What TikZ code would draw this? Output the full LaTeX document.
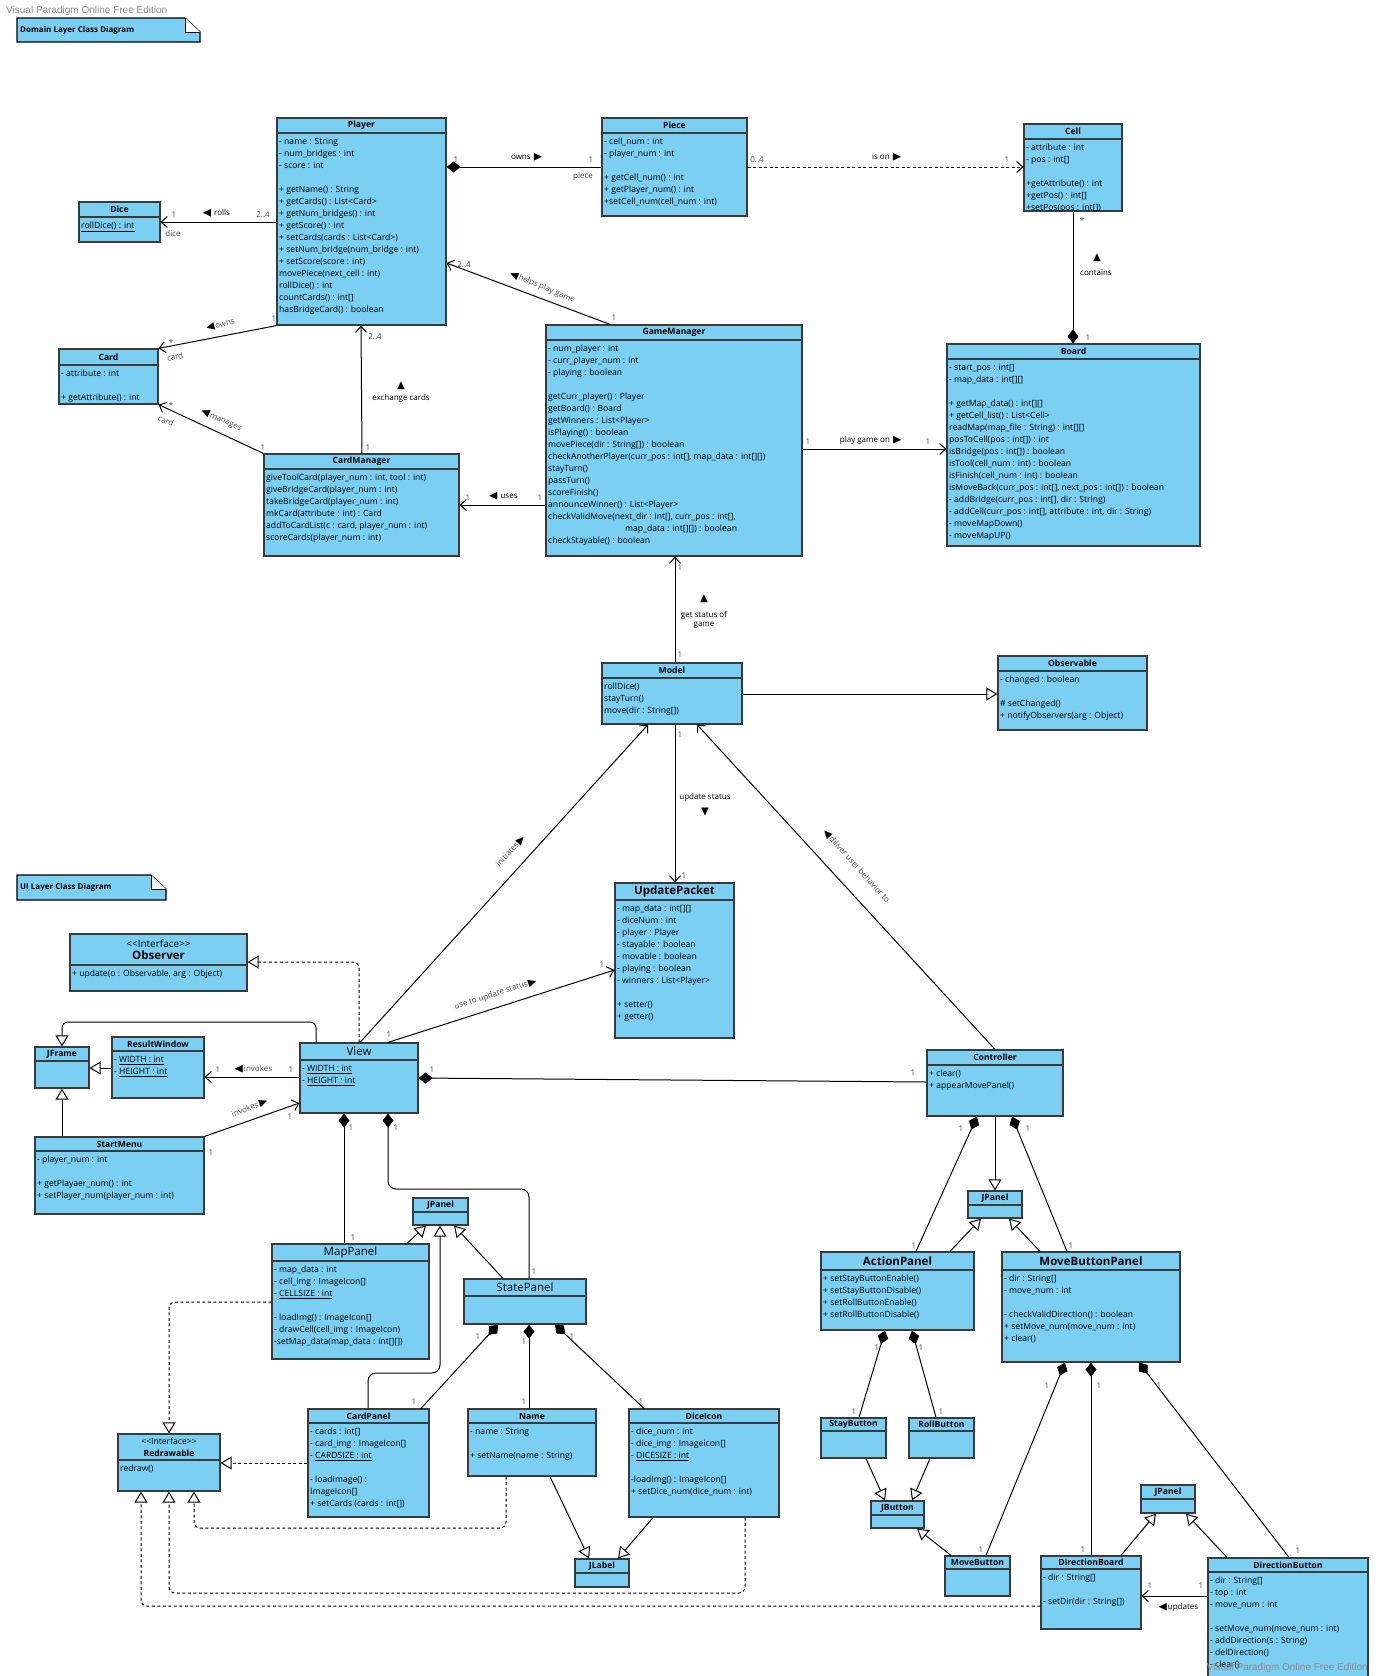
\documentclass[tikz,border=0pt]{standalone}
\usepackage{fontspec}
\usepackage{amssymb}
\setmainfont{Open Sans}
\newfontfamily\wmfont{Liberation Sans}
\usetikzlibrary{fit,arrows.meta,calc,shapes.geometric}
\definecolor{cfill}{HTML}{7ACFF3}
\definecolor{cedge}{HTML}{3A3A3A}
\newcommand{\bfnt}{\fontsize{8.6}{12}\selectfont}
\newcommand{\umlc}[8]{%
 \node[cbox, fit={(#2,#3)(#4,#5)}] (#1) {};
 \draw[cline] (#2,#6) -- (#4,#6);
 \node[ctitle] at ({(#2+#4)/2},{(#3+#6)/2}) {#7};
 \node[cbody] at (#2+2,#6+5) {#8};}
\newcommand{\bigt}[1]{{\fontsize{11.5}{13}\selectfont #1}}
\newcommand{\tR}{\raisebox{-1pt}{\fontsize{13}{13}\selectfont$\blacktriangleright$}}
\newcommand{\tL}{\raisebox{-1pt}{\fontsize{13}{13}\selectfont$\blacktriangleleft$}}
\newcommand{\tU}{{\fontsize{13}{13}\selectfont$\blacktriangle$}}
\newcommand{\tD}{{\fontsize{13}{13}\selectfont$\blacktriangledown$}}
\newcommand{\intf}{{<}{<}Interface{>}{>}}
\tikzset{
 cbox/.style={draw=cedge, fill=cfill, line width=1.2pt, inner sep=0pt},
 cline/.style={draw=cedge, line width=1.2pt},
 ctitle/.style={font=\bfnt\bfseries, align=center, inner sep=0pt},
 cbody/.style={font=\bfnt, align=left, anchor=north west, inner sep=0pt},
 lbl/.style={font=\fontsize{8}{9.6}\selectfont, text=black!70, inner sep=1pt},
 assoc/.style={line width=1pt, -{Straight Barb[length=6pt,width=11pt]}},
 gen/.style={line width=1pt, -{Triangle[open,length=11pt,width=13pt,fill=white]}},
 real/.style={gen, dash pattern=on 3pt off 2.5pt},
 comp/.style={line width=1pt, {Diamond[length=14pt,width=11pt]}-},
 notebox/.style={draw=black, fill=cfill, line width=1.2pt},
}
\begin{document}
\begin{tikzpicture}[x=1pt,y=-1pt]
\useasboundingbox[fill=white] (0,0) rectangle (1379,1676);
% watermark and notes
\node[anchor=west, text=black!45, font=\wmfont\fontsize{10}{12}\selectfont, inner sep=0] (wm1) at (6,11) {Visual Paradigm Online Free Edition};
\draw[notebox] (17,18) -- (185,18) -- (200,32) -- (200,42) -- (17,42) -- cycle;
\draw[line width=1pt, fill=white] (185,18) -- (185,32) -- (200,32);
\node[anchor=west, font=\fontsize{8}{10}\selectfont\bfseries, inner sep=0] (n1) at (20,30) {Domain Layer Class Diagram};
\draw[notebox] (17,875) -- (151,875) -- (166,889) -- (166,900) -- (17,900) -- cycle;
\draw[line width=1pt, fill=white] (151,875) -- (151,889) -- (166,889);
\node[anchor=west, font=\fontsize{8}{10}\selectfont\bfseries, inner sep=0] (n2) at (20,887) {UI Layer Class Diagram};

% ===== Domain classes
\umlc{player}{277}{118}{446}{325}{133}{Player}{- name : String\\- num\_bridges : int\\- score : int\\[12pt]+ getName() : String\\+ getCards() : List<Card>\\+ getNum\_bridges() : int\\+ getScore() : int\\+ setCards(cards : List<Card>)\\+ setNum\_bridge(num\_bridge : int)\\+ setScore(score : int)\\movePiece(next\_cell : int)\\rollDice() : int\\countCards() : int[]\\hasBridgeCard() : boolean}
\umlc{piece}{602}{118}{747}{216}{133}{Piece}{- cell\_num : int\\- player\_num : int\\[12pt]+ getCell\_num() : int\\+ getPlayer\_num() : int\\+setCell\_num(cell\_num : int)}
\umlc{cell}{1024}{124}{1122}{211}{139}{Cell}{- attribute : int\\- pos : int[]\\[12pt]+getAttribute() : int\\+getPos() : int[]\\+setPos(pos : int[])}
\umlc{dice}{79}{202}{160}{242}{217}{Dice}{\underline{rollDice() : int}}
\umlc{card}{59}{349}{158}{404}{365}{Card}{- attribute : int\\[12pt]+ getAttribute() : int}
\umlc{cardmanager}{264}{454}{459}{556}{469}{CardManager}{giveToolCard(player\_num : int, tool : int)\\giveBridgeCard(player\_num : int)\\takeBridgeCard(player\_num : int)\\mkCard(attribute : int) : Card\\addToCardList(c : card, player\_num : int)\\scoreCards(player\_num : int)}
\umlc{gamemanager}{546}{325}{802}{556}{340}{GameManager}{- num\_player : int\\- curr\_player\_num : int\\- playing : boolean\\[12pt]getCurr\_player() : Player\\getBoard() : Board\\getWinners : List<Player>\\isPlaying() : boolean\\movePiece(dir : String[]) : boolean\\checkAnotherPlayer(curr\_pos : int[], map\_data : int[][])\\stayTurn()\\passTurn()\\scoreFinish()\\announceWinner() : List<Player>\\checkValidMove(next\_dir : int[], curr\_pos : int[],\\\hspace*{77pt}map\_data : int[][]) : boolean\\checkStayable() : boolean}
\umlc{board}{947}{344}{1200}{546}{359}{Board}{- start\_pos : int[]\\- map\_data : int[][]\\[12pt]+ getMap\_data() : int[][]\\+ getCell\_list() : List<Cell>\\readMap(map\_file : String) : int[][]\\posToCell(pos : int[]) : int\\isBridge(pos : int[]) : boolean\\isTool(cell\_num : int) : boolean\\isFinish(cell\_num : int) : boolean\\isMoveBack(curr\_pos : int[], next\_pos : int[]) : boolean\\- addBridge(curr\_pos : int[], dir : String)\\- addCell(curr\_pos : int[], attribute : int, dir : String)\\- moveMapDown()\\- moveMapUP()}
\umlc{model}{602}{663}{742}{724}{678}{Model}{rollDice()\\stayTurn()\\move(dir : String[])}
\umlc{observable}{998}{656}{1147}{730}{671}{Observable}{- changed : boolean\\[12pt]\# setChanged()\\+ notifyObservers(arg : Object)}
\umlc{updatepacket}{615}{883}{734}{1038}{900}{\bigt{UpdatePacket}}{- map\_data : int[][]\\- diceNum : int\\- player : Player\\- stayable : boolean\\- movable : boolean\\- playing : boolean\\- winners : List<Player>\\[12pt]+ setter()\\+ getter()}

% ===== UI classes
\umlc{observer}{70}{934}{247}{991}{965}{\mdseries\fontsize{10}{14}\selectfont\intf\\\bigt{Observer}}{+ update(o : Observable, arg : Object)}
\umlc{view}{300}{1043}{418}{1113}{1060}{\mdseries\bigt{View}}{- \underline{WIDTH : int}\\- \underline{HEIGHT : int}}
\umlc{jframe}{35}{1047}{89}{1088}{1061}{JFrame}{}
\umlc{resultwindow}{112}{1037}{204}{1098}{1051}{ResultWindow}{- \underline{WIDTH : int}\\- \underline{HEIGHT : int}}
\umlc{startmenu}{35}{1137}{204}{1214}{1151}{StartMenu}{- player\_num : int\\[12pt]+ getPlayaer\_num() : int\\+ setPlayer\_num(player\_num : int)}
\umlc{controller}{927}{1050}{1063}{1116}{1065}{Controller}{+ clear()\\+ appearMovePanel()}
\umlc{jpanela}{413}{1198}{468}{1225}{1212}{JPanel}{}
\umlc{mappanel}{272}{1244}{429}{1359}{1261}{\mdseries\bigt{MapPanel}}{- map\_data : int\\- cell\_img : ImageIcon[]\\- \underline{CELLSIZE : int}\\[12pt]- loadImg() : ImageIcon[]\\- drawCell(cell\_img : ImageIcon)\\-setMap\_data(map\_data : int[][])}
\umlc{statepanel}{464}{1279}{586}{1324}{1296}{\mdseries\bigt{StatePanel}}{}
\umlc{cardpanel}{308}{1409}{429}{1517}{1423}{CardPanel}{- cards : int[]\\- card\_img : ImageIcon[]\\- \underline{CARDSIZE : int}\\[12pt]- loadImage() :\\ImageIcon[]\\+ setCards (cards : int[])}
\umlc{name}{468}{1409}{596}{1476}{1423}{Name}{- name : String\\[12pt]+ setName(name : String)}
\umlc{diceicon}{629}{1409}{779}{1517}{1423}{DiceIcon}{- dice\_num : int\\- dice\_img : Imageicon[]\\- \underline{DICESIZE : int}\\[12pt]-loadImg() : ImageIcon[]\\+ setDice\_num(dice\_num : int)}
\umlc{jlabel}{575}{1559}{629}{1587}{1573}{JLabel}{}
\umlc{redrawable}{118}{1434}{220}{1491}{1460}{\mdseries\fontsize{8.6}{12}\selectfont\intf\\\bfseries Redrawable}{redraw()}
\umlc{jpanelc}{968}{1191}{1022}{1218}{1205}{JPanel}{}
\umlc{actionpanel}{821}{1252}{974}{1330}{1270}{\bigt{ActionPanel}}{+ setStayButtonEnable()\\+ setStayButtonDisable()\\+ setRollButtonEnable()\\+ setRollButtonDisable()}
\umlc{movebuttonpanel}{1002}{1252}{1180}{1362}{1270}{\bigt{MoveButtonPanel}}{- dir : String[]\\- move\_num : int\\[12pt]- checkValidDirection() : boolean\\+ setMove\_num(move\_num : int)\\+ clear()}
\umlc{staybutton}{821}{1418}{886}{1458}{1431}{StayButton}{}
\umlc{rollbutton}{909}{1418}{974}{1458}{1431}{RollButton}{}
\umlc{jbutton}{871}{1501}{924}{1528}{1515}{JButton}{}
\umlc{movebutton}{945}{1556}{1010}{1596}{1569}{MoveButton}{}
\umlc{directionboard}{1041}{1556}{1141}{1629}{1569}{DirectionBoard}{- dir : String[]\\[12pt]- setDir(dir : String[])}
\umlc{jpanelr}{1141}{1485}{1195}{1513}{1499}{JPanel}{}
\umlc{directionbutton}{1208}{1558}{1368}{1700}{1572}{DirectionButton}{- dir : String[]\\- top : int\\- move\_num : int\\[12pt]- setMove\_num(move\_num : int)\\- addDirection(s : String)\\- delDirection()\\- clear()}
\node[anchor=east, text=black!45, font=\wmfont\fontsize{10}{12}\selectfont, inner sep=0] (wm2) at (1368,1668) {Visual Paradigm Online Free Edition};

% ===== Domain connectors
\draw[comp] (player.east |- 0,167) -- (piece.west |- 0,167);
\node[lbl] (l1) at (456,160) {1};
\node[lbl,text=black] (l2) at (527,157) {owns \tR};
\node[lbl] (l3) at (591,160) {1};
\node[lbl] (l4) at (583,177) {piece};
\draw[assoc, dash pattern=on 3pt off 2.5pt] (piece.east |- 0,167) -- (cell.west |- 0,167);
\node[lbl] (l5) at (757,160) {0..4};
\node[lbl,text=black] (l6) at (887,157) {is on \tR};
\node[lbl] (l7) at (1007,160) {1};
\draw[comp] (board.north -| 1073,0) -- (cell.south -| 1073,0);
\node[lbl] (l8) at (1082,220) {*};
\node[lbl,text=black] (l9) at (1097,258) {\tU};
\node[lbl,text=black] (l10) at (1096,273) {contains};
\node[lbl] (l11) at (1088,338) {1};
\draw[assoc] (player.west |- 0,222) -- (dice.east |- 0,222);
\node[lbl] (l12) at (174,215) {1};
\node[lbl,text=black] (l13) at (216,213) {\tL\ rolls};
\node[lbl] (l14) at (263,215) {2..4};
\node[lbl] (l15) at (173,233) {dice};
\draw[assoc] (player.south west) -- (card.north east);
\node[lbl] (l16) at (274,319) {1};
\node[lbl,rotate=13] (l17) at (220,325) {\textcolor{black}{\tL}owns};
\node[lbl] (l18) at (171,342) {*};
\node[lbl,rotate=13] (l19) at (175,357) {card};
\draw[assoc] (cardmanager.north west) -- (card.south east);
\node[lbl] (l20) at (263,448) {1};
\node[lbl,rotate=-24] (l21) at (221,420) {\textcolor{black}{\tL}manages};
\node[lbl] (l22) at (171,405) {*};
\node[lbl,rotate=-22] (l23) at (166,421) {card};
\draw[assoc] (cardmanager.north -| 362,0) -- (player.south -| 361,0);
\node[lbl] (l24) at (368,448) {1};
\node[lbl] (l25) at (375,337) {2..4};
\node[lbl,text=black] (l26) at (401,386) {\tU};
\node[lbl,text=black] (l27) at (401,398) {exchange cards};
\draw[assoc] (gamemanager.north -| 610,0) -- (player.east |- 0,263);
\node[lbl,rotate=-23] (l28) at (542,287) {\textcolor{black}{\tL}helps play game};
\node[lbl] (l29) at (614,318) {1};
\node[lbl] (l30) at (464,265) {2..4};
\draw[assoc] (gamemanager.west |- 0,505) -- (cardmanager.east |- 0,505);
\node[lbl] (l31) at (468,498) {1};
\node[lbl,text=black] (l32) at (503,496) {\tL\ uses};
\node[lbl] (l33) at (540,498) {1};
\draw[assoc] (gamemanager.east |- 0,449) -- (board.west |- 0,449);
\node[lbl] (l34) at (808,442) {1};
\node[lbl,text=black] (l35) at (871,440) {play game on \tR};
\node[lbl] (l36) at (928,442) {1};

% ===== Model area
\draw[assoc] (model.north -| 675,0) -- (gamemanager.south -| 675,0);
\node[lbl] (l37) at (680,568) {1};
\node[lbl,text=black] (l38) at (704,599) {\tU};
\node[lbl,text=black,align=center] (l39) at (704,620) {get status of\\game};
\node[lbl] (l40) at (680,655) {1};
\draw[gen] (model.east |- 0,694) -- (observable.west |- 0,694);
\draw[assoc] (model.south -| 675,0) -- (updatepacket.north -| 675,0);
\node[lbl] (l41) at (680,735) {1};
\node[lbl,text=black] (l42) at (705,797) {update status};
\node[lbl,text=black] (l43) at (705,812) {\tD};
\node[lbl] (l44) at (684,876) {1};
\draw[assoc] (view.north -| 360,0) -- (model.south -| 648,0);
\node[lbl,rotate=48] (l45) at (511,851) {initiates\textcolor{black}{\tR}};
\draw[assoc] (controller.north -| 995,0) -- (model.south -| 697,0);
\node[lbl,rotate=-48] (l46) at (856,866) {\textcolor{black}{\tL}diliver user behavior to};
\draw[assoc] (view.north -| 388,0) -- (updatepacket.west |- 0,970);
\node[lbl,rotate=17.5] (l47) at (496,994) {use to update status\textcolor{black}{\tR}};
\node[lbl] (l48) at (389,1035) {1};
\node[lbl] (l49) at (602,965) {1};
\draw[comp] (view.east |- 0,1078) -- (controller.west |- 0,1082);
\node[lbl] (l50) at (432,1070) {1};
\node[lbl] (l51) at (913,1073) {1};

% ===== View area
\draw[real, rounded corners=6pt] (view.north -| 359,0) -- (359,962) -- (observer.east |- 0,962);
\draw[gen, rounded corners=6pt] (view.north -| 316,0) -- (316,1022) -- (62,1022) -- (jframe.north -| 62,0);
\draw[gen] (resultwindow.west |- 0,1068) -- (jframe.east |- 0,1068);
\draw[gen] (startmenu.north -| 62,0) -- (jframe.south -| 62,0);
\draw[assoc] (view.west |- 0,1077) -- (resultwindow.east |- 0,1077);
\node[lbl] (l52) at (218,1070) {1};
\node[lbl] (l53) at (253,1069) {\textcolor{black}{\tL}invokes};
\node[lbl] (l54) at (291,1070) {1};
\draw[assoc] (startmenu.north east) -- (view.west |- 0,1103);
\node[lbl,rotate=21] (l55) at (250,1108) {invokes\textcolor{black}{\tR}};
\node[lbl] (l56) at (290,1117) {1};
\node[lbl] (l57) at (211,1153) {1};
\draw[comp] (view.south -| 344,0) -- (mappanel.north -| 344,0);
\node[lbl] (l58) at (351,1128) {1};
\node[lbl] (l59) at (353,1238) {1};
\draw[comp, rounded corners=8pt] (view.south -| 388,0) -- (388,1189) -- (529,1189) -- (statepanel.north -| 529,0);
\node[lbl] (l60) at (396,1128) {1};
\node[lbl] (l61) at (534,1272) {1};
\draw[gen] (mappanel.north -| 407,0) -- (jpanela.south -| 426,0);
\draw[gen, rounded corners=8pt] (cardpanel.north -| 368,0) -- (368,1373) -- (440,1373) -- (jpanela.south -| 440,0);
\draw[gen] (statepanel.north -| 503,0) -- (jpanela.south -| 454,0);
\draw[comp] (statepanel.south -| 498,0) -- (cardpanel.north -| 421,0);
\draw[comp] (statepanel.south -| 529,0) -- (name.north -| 529,0);
\draw[comp] (statepanel.south -| 555,0) -- (diceicon.north -| 644,0);
\node[lbl] (l62) at (478,1337) {1};
\node[lbl] (l63) at (524,1342) {1};
\node[lbl] (l64) at (572,1337) {1};
\node[lbl] (l65) at (414,1402) {1};
\node[lbl] (l66) at (524,1402) {1};
\node[lbl] (l67) at (641,1402) {1};
\draw[gen] (name.south -| 550,0) -- (jlabel.north -| 589,0);
\draw[gen] (diceicon.south -| 653,0) -- (jlabel.north -| 618,0);
\draw[real, rounded corners=6pt] (mappanel.west |- 0,1302) -- (169,1302) -- (redrawable.north -| 169,0);
\draw[real] (cardpanel.west |- 0,1463) -- (redrawable.east |- 0,1463);
\draw[real, rounded corners=6pt] (name.south -| 506,0) -- (506,1528) -- (194,1528) -- (redrawable.south -| 194,0);
\draw[real, rounded corners=6pt] (diceicon.south -| 745,0) -- (745,1593) -- (169,1593) -- (redrawable.south -| 169,0);
\draw[real, rounded corners=6pt] (directionboard.west |- 0,1606) -- (141,1606) -- (redrawable.south -| 141,0);

% ===== Controller area
\draw[gen] (controller.south -| 995,0) -- (jpanelc.north -| 995,0);
\draw[comp] (controller.south -| 977,0) -- (actionpanel.north -| 916,0);
\node[lbl] (l68) at (961,1129) {1};
\node[lbl] (l69) at (914,1246) {1};
\draw[comp] (controller.south -| 1012,0) -- (movebuttonpanel.north -| 1067,0);
\node[lbl] (l70) at (1028,1129) {1};
\node[lbl] (l71) at (1071,1246) {1};
\draw[gen] (actionpanel.north -| 950,0) -- (jpanelc.south -| 981,0);
\draw[gen] (movebuttonpanel.north -| 1040,0) -- (jpanelc.south -| 1009,0);
\draw[comp] (actionpanel.south -| 885,0) -- (staybutton.north -| 859,0);
\draw[comp] (actionpanel.south -| 912,0) -- (rollbutton.north -| 936,0);
\node[lbl] (l72) at (877,1348) {1};
\node[lbl] (l73) at (921,1348) {1};
\node[lbl] (l74) at (854,1412) {1};
\node[lbl] (l75) at (941,1412) {1};
\draw[gen] (staybutton.south -| 866,0) -- (jbutton.north -| 885,0);
\draw[gen] (rollbutton.south -| 930,0) -- (jbutton.north -| 912,0);
\draw[gen] (movebutton.north -| 951,0) -- (jbutton.south -| 917,0);
\draw[comp] (movebuttonpanel.south -| 1065,0) -- (movebutton.north -| 986,0);
\draw[comp] (movebuttonpanel.south -| 1091,0) -- (directionboard.north -| 1091,0);
\draw[comp] (movebuttonpanel.south -| 1139,0) -- (directionbutton.north -| 1289,0);
\node[lbl] (l76) at (1047,1386) {1};
\node[lbl] (l77) at (1099,1386) {1};
\node[lbl] (l78) at (1159,1386) {1};
\node[lbl] (l79) at (981,1550) {1};
\node[lbl] (l80) at (1083,1550) {1};
\node[lbl] (l81) at (1298,1551) {1};
\draw[gen] (directionboard.north -| 1121,0) -- (jpanelr.south -| 1156,0);
\draw[gen] (directionbutton.north -| 1227,0) -- (jpanelr.south -| 1186,0);
\draw[assoc] (directionbutton.west |- 0,1596) -- (directionboard.east |- 0,1596);
\node[lbl] (l82) at (1150,1586) {1};
\node[lbl,text=black] (l83) at (1178,1607) {\tL updates};
\node[lbl] (l84) at (1201,1586) {1};
\end{tikzpicture}
\end{document}
